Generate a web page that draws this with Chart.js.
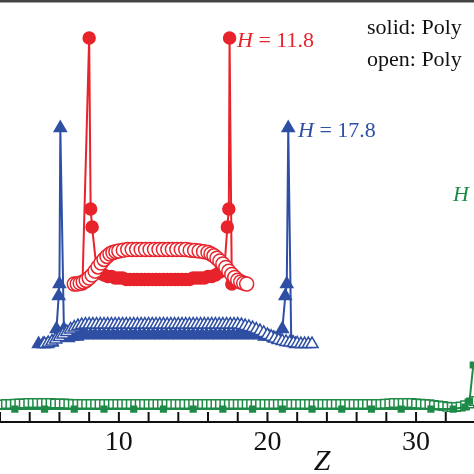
<!DOCTYPE html>
<html>
<head>
<meta charset="utf-8">
<script src="https://cdn.jsdelivr.net/npm/chart.js@4"></script>
<style>
  html, body { margin: 0; padding: 0; background: #fff; }
</style>
</head>
<body>
<canvas id="c" width="474" height="474"></canvas>
<script>
// H = 11.8, solid (filled circles)
const redSolidZ = [7.55, 8.0, 8.1, 8.2, 8.5, 8.8, 9.0, 9.25, 9.5, 9.75, 10.0, 10.25, 10.5, 10.75, 11.0, 11.25, 11.5, 11.75, 12.0, 12.25, 12.5, 12.75, 13.0, 13.25, 13.5, 13.75, 14.0, 14.25, 14.5, 14.75, 15.0, 15.25, 15.5, 15.75, 16.0, 16.25, 16.5, 16.8, 17.1, 17.3, 17.4, 17.45, 17.6];
const redSolidY = [46, 128, 71, 65, 51, 49.5, 49, 48.5, 48.5, 48, 48, 48, 47.5, 47.5, 47.5, 47.5, 47.5, 47.5, 47.5, 47.5, 47.5, 47.5, 47.5, 47.5, 47.5, 47.5, 47.5, 47.5, 47.5, 47.5, 48, 48, 48, 48, 48.5, 48.5, 49, 50, 51, 65, 71, 128, 46];
// H = 11.8, open circles
const redOpenZ = [7.0, 7.2, 7.4, 7.6, 7.8, 8.0, 8.2, 8.4, 8.6, 8.8, 9.0, 9.2, 9.4, 9.6, 9.8, 10.0, 10.3, 10.6, 10.9, 11.2, 11.5, 11.8, 12.1, 12.4, 12.7, 13.0, 13.3, 13.6, 13.9, 14.2, 14.5, 14.8, 15.1, 15.4, 15.7, 16.0, 16.2, 16.4, 16.6, 16.8, 17.0, 17.2, 17.4, 17.6, 17.8, 18.0, 18.2, 18.4, 18.6];
const redOpenY = [46, 46, 46.3, 46.7, 47.2, 48, 49, 50.3, 51.7, 53, 54.2, 55.2, 56, 56.5, 56.8, 57, 57.3, 57.5, 57.5, 57.5, 57.5, 57.5, 57.5, 57.5, 57.5, 57.5, 57.5, 57.5, 57.5, 57.5, 57.5, 57.3, 57.2, 57, 56.8, 56.5, 56, 55.4, 54.6, 53.7, 52.7, 51.5, 50.3, 49.2, 48.2, 47.3, 46.7, 46.3, 46];
// H = 17.8, solid triangles
const blueSolidZ = [4.6, 4.9, 5.2, 5.5, 5.8, 5.95, 6.0, 6.06, 6.3, 6.6, 6.9, 7.2, 7.5, 7.8, 8.1, 8.4, 8.7, 9.0, 9.3, 9.6, 9.9, 10.2, 10.5, 10.8, 11.1, 11.4, 11.7, 12.0, 12.3, 12.6, 12.9, 13.2, 13.5, 13.8, 14.1, 14.4, 14.7, 15.0, 15.3, 15.6, 15.9, 16.2, 16.5, 16.8, 17.1, 17.4, 17.7, 18.0, 18.3, 18.6, 18.9, 19.2, 19.5, 19.8, 20.1, 20.4, 20.7, 21.0, 21.2, 21.3, 21.4, 21.6, 21.9];
const blueSolidY = [26, 26, 26, 26.5, 31, 42, 46, 98, 31, 28, 28.5, 28.5, 29, 29, 29, 29, 29, 29, 29, 29, 29, 29, 29, 29, 29, 29, 29, 29, 29, 29, 29, 29, 29, 29, 29, 29, 29, 29, 29, 29, 29, 29, 29, 29, 29, 29, 29, 29, 29, 29, 29, 29, 29, 28.5, 28.5, 28, 27.5, 31, 42, 46, 98, 27, 26];
// H = 17.8, open triangles
const blueOpenZ = [5.0, 5.25, 5.5, 5.75, 6.0, 6.25, 6.5, 6.75, 7.0, 7.25, 7.5, 7.75, 8.0, 8.25, 8.5, 8.75, 9.0, 9.25, 9.5, 9.75, 10.0, 10.25, 10.5, 10.75, 11.0, 11.25, 11.5, 11.75, 12.0, 12.25, 12.5, 12.75, 13.0, 13.25, 13.5, 13.75, 14.0, 14.25, 14.5, 14.75, 15.0, 15.25, 15.5, 15.75, 16.0, 16.25, 16.5, 16.75, 17.0, 17.25, 17.5, 17.75, 18.0, 18.25, 18.5, 18.75, 19.0, 19.25, 19.5, 19.75, 20.0, 20.25, 20.5, 20.75, 21.0, 21.25, 21.5, 21.75, 22.0, 22.25, 22.5, 22.75, 23.0];
const blueOpenY = [26, 26.3, 26.8, 27.5, 28.3, 29.2, 30, 30.8, 31.5, 32, 32.3, 32.5, 32.5, 32.5, 32.5, 32.5, 32.5, 32.5, 32.5, 32.5, 32.5, 32.5, 32.5, 32.5, 32.5, 32.5, 32.5, 32.5, 32.5, 32.5, 32.5, 32.5, 32.5, 32.5, 32.5, 32.5, 32.5, 32.5, 32.5, 32.5, 32.5, 32.5, 32.5, 32.5, 32.5, 32.5, 32.5, 32.5, 32.5, 32.5, 32.5, 32.5, 32.5, 32.3, 32, 31.7, 31.3, 30.8, 30.3, 29.7, 29, 28.4, 27.8, 27.3, 27, 26.7, 26.5, 26.3, 26.2, 26, 26, 26, 26];
// green series, solid squares
const greenSolidZ = [1.5, 3, 5, 7, 9, 11, 13, 15, 17, 19, 21, 23, 25, 27, 29, 31, 32.5, 33.3, 33.6, 33.85];
const greenSolidY = [4.3, 4.3, 4.3, 4.3, 4.3, 4.3, 4.3, 4.3, 4.3, 4.3, 4.3, 4.3, 4.3, 4.3, 4.3, 4.3, 4.3, 5, 7, 19];
// green series, open squares
const greenOpenZ = [1.5, 1.8, 2.1, 2.4, 2.7, 3.0, 3.3, 3.6, 3.9, 4.2, 4.5, 4.8, 5.1, 5.4, 5.7, 6.0, 6.3, 6.6, 6.9, 7.2, 7.5, 7.8, 8.1, 8.4, 8.7, 9.0, 9.3, 9.6, 9.9, 10.2, 10.5, 10.8, 11.1, 11.4, 11.7, 12.0, 12.3, 12.6, 12.9, 13.2, 13.5, 13.8, 14.1, 14.4, 14.7, 15.0, 15.3, 15.6, 15.9, 16.2, 16.5, 16.8, 17.1, 17.4, 17.7, 18.0, 18.3, 18.6, 18.9, 19.2, 19.5, 19.8, 20.1, 20.4, 20.7, 21.0, 21.3, 21.6, 21.9, 22.2, 22.5, 22.8, 23.1, 23.4, 23.7, 24.0, 24.3, 24.6, 24.9, 25.2, 25.5, 25.8, 26.1, 26.4, 26.7, 27.0, 27.3, 27.6, 27.9, 28.2, 28.5, 28.8, 29.1, 29.4, 29.7, 30.0, 30.3, 30.6, 30.9, 31.2, 31.5, 31.8, 32.1, 32.4, 32.7, 33.0, 33.3, 33.6, 33.9];
const greenOpenY = [5.5, 5.7, 5.8, 6, 6, 6.1, 6.2, 6.2, 6.3, 6.3, 6.3, 6.3, 6.3, 6.3, 6.2, 6.2, 6.2, 6.1, 6, 6, 6, 6, 6, 6, 6, 6, 6, 6, 6, 6, 6, 6, 6, 6, 6, 6, 6, 6, 6, 6, 6, 6, 6, 6, 6, 6, 6, 6, 6, 6, 6, 6, 6, 6, 6, 6, 6, 6, 6, 6, 6, 6, 6, 6, 6, 6, 6, 6, 6, 6, 6, 6, 6, 6, 6, 6, 6, 6, 6, 6, 6, 6, 6, 6, 6, 6, 6, 6, 6.1, 6.2, 6.3, 6.3, 6.3, 6.3, 6.3, 6.2, 6.1, 6, 5.9, 5.7, 5.5, 5.3, 5.1, 5, 5, 5.2, 5.6, 6.2, 7];

const RED = "#e8232b", BLUE = "#2e4fa3", GREEN = "#1e8a47";
const xTicks = [2, 4, 6, 8, 10, 12, 14, 16, 18, 20, 22, 24, 26, 28, 30, 32];

function pts(xs, ys) { return xs.map((x, i) => ({ x: x, y: ys[i] })); }

function series(xs, ys, color, style, radius, open) {
    return {
        data: pts(xs, ys),
        borderColor: color,
        borderWidth: 2,
        pointStyle: style,
        pointRadius: radius,
        pointBorderColor: color,
        pointBackgroundColor: open ? "#fff" : color,
        pointBorderWidth: 1.5,
        showLine: true,
        tension: 0
    };
}

const overlay = {
    id: "overlay",
    afterDraw(chart) {
        const ctx = chart.ctx, xs = chart.scales.x;
        const base = chart.chartArea.bottom;
        ctx.save();
        // inward ticks
        ctx.strokeStyle = "#111";
        ctx.lineWidth = 2;
        xTicks.forEach(v => {
            const px = xs.getPixelForValue(v);
            ctx.beginPath(); ctx.moveTo(px, base); ctx.lineTo(px, base - 10); ctx.stroke();
        });
        // top frame
        ctx.strokeStyle = "#444";
        ctx.lineWidth = 3;
        ctx.beginPath(); ctx.moveTo(0, 1); ctx.lineTo(474, 1); ctx.stroke();
        // texts
        ctx.textBaseline = "middle";
        ctx.textAlign = "left";
        function lab(parts, x, y, color) {
            let px = x;
            parts.forEach(p => {
                ctx.font = (p[1] ? "italic " : "") + "22px 'Liberation Serif'";
                ctx.fillStyle = color;
                ctx.fillText(p[0], px, y);
                px += ctx.measureText(p[0]).width;
            });
        }
        lab([["H", true], [" = 11.8", false]], 237, 41, RED);
        lab([["H", true], [" = 17.8", false]], 298, 131, BLUE);
        lab([["H", true]], 453, 195, GREEN);
        lab([["solid: Poly", false]], 367, 28, "#111");
        lab([["open: Poly", false]], 367, 60, "#111");
        ctx.font = "italic 30px 'Liberation Serif'";
        ctx.fillStyle = "#111";
        ctx.textAlign = "center";
        ctx.fillText("Z", 322, 462);
        ctx.restore();
    }
};

new Chart(document.getElementById("c").getContext("2d"), {
    type: "scatter",
    data: {
        datasets: [
            series(greenSolidZ, greenSolidY, GREEN, "rect", 4, false),
            series(greenOpenZ, greenOpenY, GREEN, "rect", 6, true),
            series(blueOpenZ, blueOpenY, BLUE, "triangle", 7, true),
            series(blueSolidZ, blueSolidY, BLUE, "triangle", 7, false),
            series(redOpenZ, redOpenY, RED, "circle", 7, true),
            series(redSolidZ, redSolidY, RED, "circle", 6, false)
        ]
    },
    options: {
        responsive: false,
        animation: false,
        layout: { padding: 0, autoPadding: false },
        plugins: { legend: { display: false }, tooltip: { enabled: false } },
        scales: {
            x: {
                type: "linear",
                min: 2,
                max: 33.9,
                afterFit(s) { s.height = 52; },
                afterBuildTicks(s) { s.ticks = [10, 20, 30].map(v => ({ value: v })); },
                ticks: {
                    color: "#111",
                    font: { family: "'Liberation Serif'", size: 28 },
                    padding: 4
                },
                grid: { drawOnChartArea: false, tickLength: 0 },
                border: { color: "#111", width: 2 }
            },
            y: { display: false, min: 0, max: 140.7 }
        }
    },
    plugins: [overlay]
});
</script>
</body>
</html>
